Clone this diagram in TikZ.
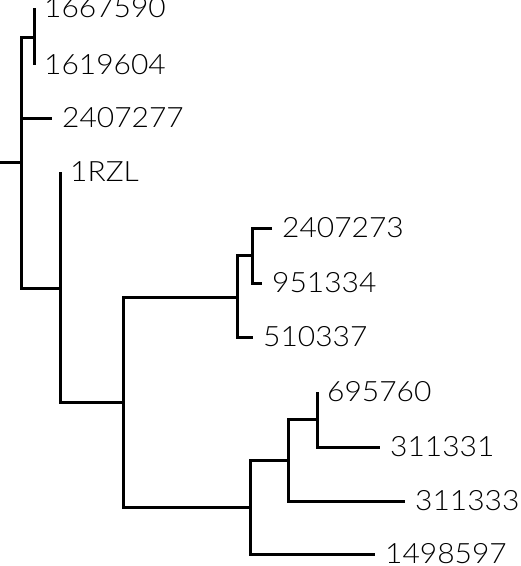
\documentclass[tikz,border=0pt]{standalone}
\usepackage{fontspec}
\setmainfont{Lato}[UprightFont=* Light]
\begin{document}
\begin{tikzpicture}[x=1pt,y=-1pt,
  br/.style={line width=3pt},
  lab/.style={anchor=west,inner sep=0pt,xshift=10pt,font=\fontsize{28}{28}\selectfont,xscale=1.07,transform shape}]
\useasboundingbox (0,0) rectangle (521,566);
% internal nodes
\coordinate (stub) at (0,162);
\coordinate (R) at (21,162);
\coordinate (A) at (34,37);
\coordinate (B) at (60,288);
\coordinate (C) at (123,402);
\coordinate (D) at (237,297);
\coordinate (F) at (252,255);
\coordinate (E) at (250,507);
\coordinate (G) at (288,460);
\coordinate (H) at (317,419);
% leaves
\coordinate (l1) at (34,8);
\coordinate (l2) at (34,65);
\coordinate (l3) at (52,118);
\coordinate (l4) at (60,172);
\coordinate (l5) at (272,228);
\coordinate (l6) at (262,283);
\coordinate (l7) at (253,337);
\coordinate (l8) at (317,392);
\coordinate (l9) at (380,447);
\coordinate (l10) at (405,501);
\coordinate (l11) at (375,554);
% branches
\draw[br] (stub) -- (R);
\draw[br] (A) -| (R) |- (B);
\draw[br] (R |- l3) -- (l3);
\draw[br] (l1) -- (l2);
\draw[br] (l4) -| (B) |- (C);
\draw[br] (D) -| (C) |- (E);
\draw[br] (F) -| (D) |- (l7);
\draw[br] (l5) -| (F) |- (l6);
\draw[br] (G) -| (E) |- (l11);
\draw[br] (H) -| (G) |- (l10);
\draw[br] (l8) -| (H) |- (l9);
% labels
\node[lab] (t1) at (l1) {1667590};
\node[lab] (t2) at (l2) {1619604};
\node[lab] (t3) at (l3) {2407277};
\node[lab] (t4) at (l4) {1RZL};
\node[lab] (t5) at (l5) {2407273};
\node[lab] (t6) at (l6) {951334};
\node[lab] (t7) at (l7) {510337};
\node[lab] (t8) at (l8) {695760};
\node[lab] (t9) at (l9) {311331};
\node[lab] (t10) at (l10) {311333};
\node[lab] (t11) at (l11) {1498597};
\end{tikzpicture}
\end{document}
